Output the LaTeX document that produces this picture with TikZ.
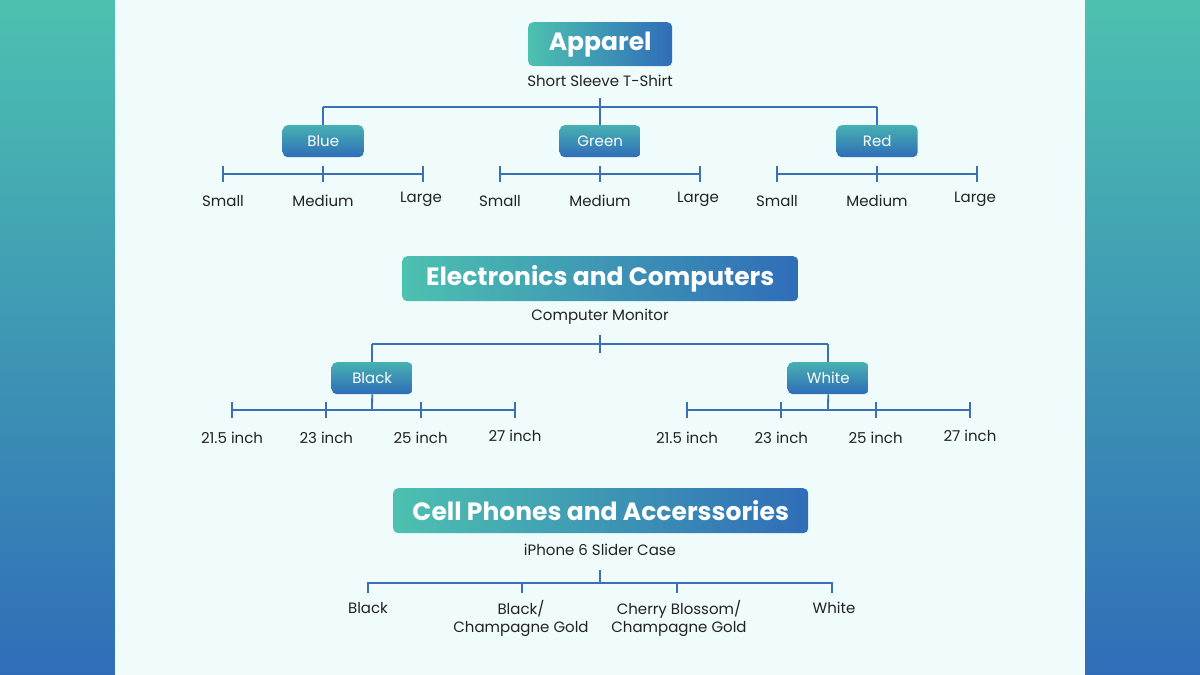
\documentclass[tikz,border=0pt]{standalone}
\usepackage{fontspec}
\setmainfont{Poppins}
\definecolor{teal}{HTML}{4DC1B0}
\definecolor{blu}{HTML}{2F6DB8}
\definecolor{ln}{HTML}{3B6FB6}
\definecolor{panel}{HTML}{F0FCFC}
\definecolor{txt}{HTML}{222222}
\begin{document}
\begin{tikzpicture}[x=1pt,y=-1pt,
  hdr/.style={rounded corners=5pt,shade,shading angle=135,left color=teal,right color=blu,
     text=white,font=\bfseries\fontsize{25}{28}\selectfont,inner sep=0pt,anchor=north west},
  sub/.style={rounded corners=5pt,shade,top color=teal!80!blu,bottom color=blu,
     text=white,font=\fontsize{15}{17}\selectfont,inner sep=0pt,anchor=north west,
     minimum width=81pt,minimum height=32pt},
  lbl/.style={text=txt,font=\fontsize{15}{18}\selectfont,align=center},
  ln/.style={draw=ln,line width=1.8pt}]
\shade[top color=teal,bottom color=blu] (0,0) rectangle (1200,675);
\fill[panel] (115,0) rectangle (1085,675);
\useasboundingbox (0,0) rectangle (1200,675);
% Apparel
\node[hdr,minimum width=144pt,minimum height=44pt] (A) at (528,22) {Apparel};
\node[lbl] (As) at (600,81) {Short Sleeve T-Shirt};
\draw[ln] (600,98)--(600,116);
\foreach \n/\x/\t in {B/323/Blue,G/600/Green,R/877/Red}{
  \node[sub] (\n) at (\x-40.5,125) {\t};
  \draw[ln] (\n.north) -- ++(0,-18) coordinate (\n t);
  \draw[ln] (\x-100,174)--(\x+100,174);
  \foreach \d in {-100,0,100} \draw[ln] (\x+\d,166)--(\x+\d,182);
  \node[lbl] (\n s) at (\x-100,201) {Small};
  \node[lbl] (\n m) at (\x,201) {Medium};
  \node[lbl] (\n l) at (\x+98,199) {Large};
}
\draw[ln] (Bt) -- (Rt);
% Electronics
\node[hdr,minimum width=396pt,minimum height=45pt] (E) at (402,256) {Electronics and Computers};
\node[lbl] (Es) at (600,317) {Computer Monitor};
\draw[ln] (600,335)--(600,353);
\foreach \n/\x/\t/\a in {K/372/Black/232,W/828/White/687}{
  \node[sub] (\n) at (\x-40.5,362) {\t};
  \draw[ln] (\n.north) -- ++(0,-18) coordinate (\n t);
  \draw[ln] (\n.south) -- (\x,410);
  \draw[ln] (\a,410)--(\a+283,410);
  \foreach \i/\s in {0/21.5 inch,1/23 inch,2/25 inch}{
    \draw[ln] (\a+94.3*\i,402)--(\a+94.3*\i,418);
    \node[lbl] at (\a+94.3*\i,438) {\s};}
  \draw[ln] (\a+283,402)--(\a+283,418);
  \node[lbl] at (\a+283,436) {27 inch};
}
\draw[ln] (Kt) -- (Wt);
% Cell
\node[hdr,minimum width=415pt,minimum height=45pt] (C) at (393,488) {Cell Phones and Accerssories};
\node[lbl] (Cs) at (600,550) {iPhone 6 Slider Case};
\draw[ln] (600,570)--(600,583);
\draw[ln] (368,583)--(832,583);
\foreach \x in {368,522,677,832} \draw[ln] (\x,582)--(\x,593);
\node[lbl] at (368,608) {Black};
\node[lbl] at (521,618) {Black/\\Champagne Gold};
\node[lbl] at (679,618) {Cherry Blossom/\\Champagne Gold};
\node[lbl] at (834,608) {White};
\end{tikzpicture}
\end{document}
